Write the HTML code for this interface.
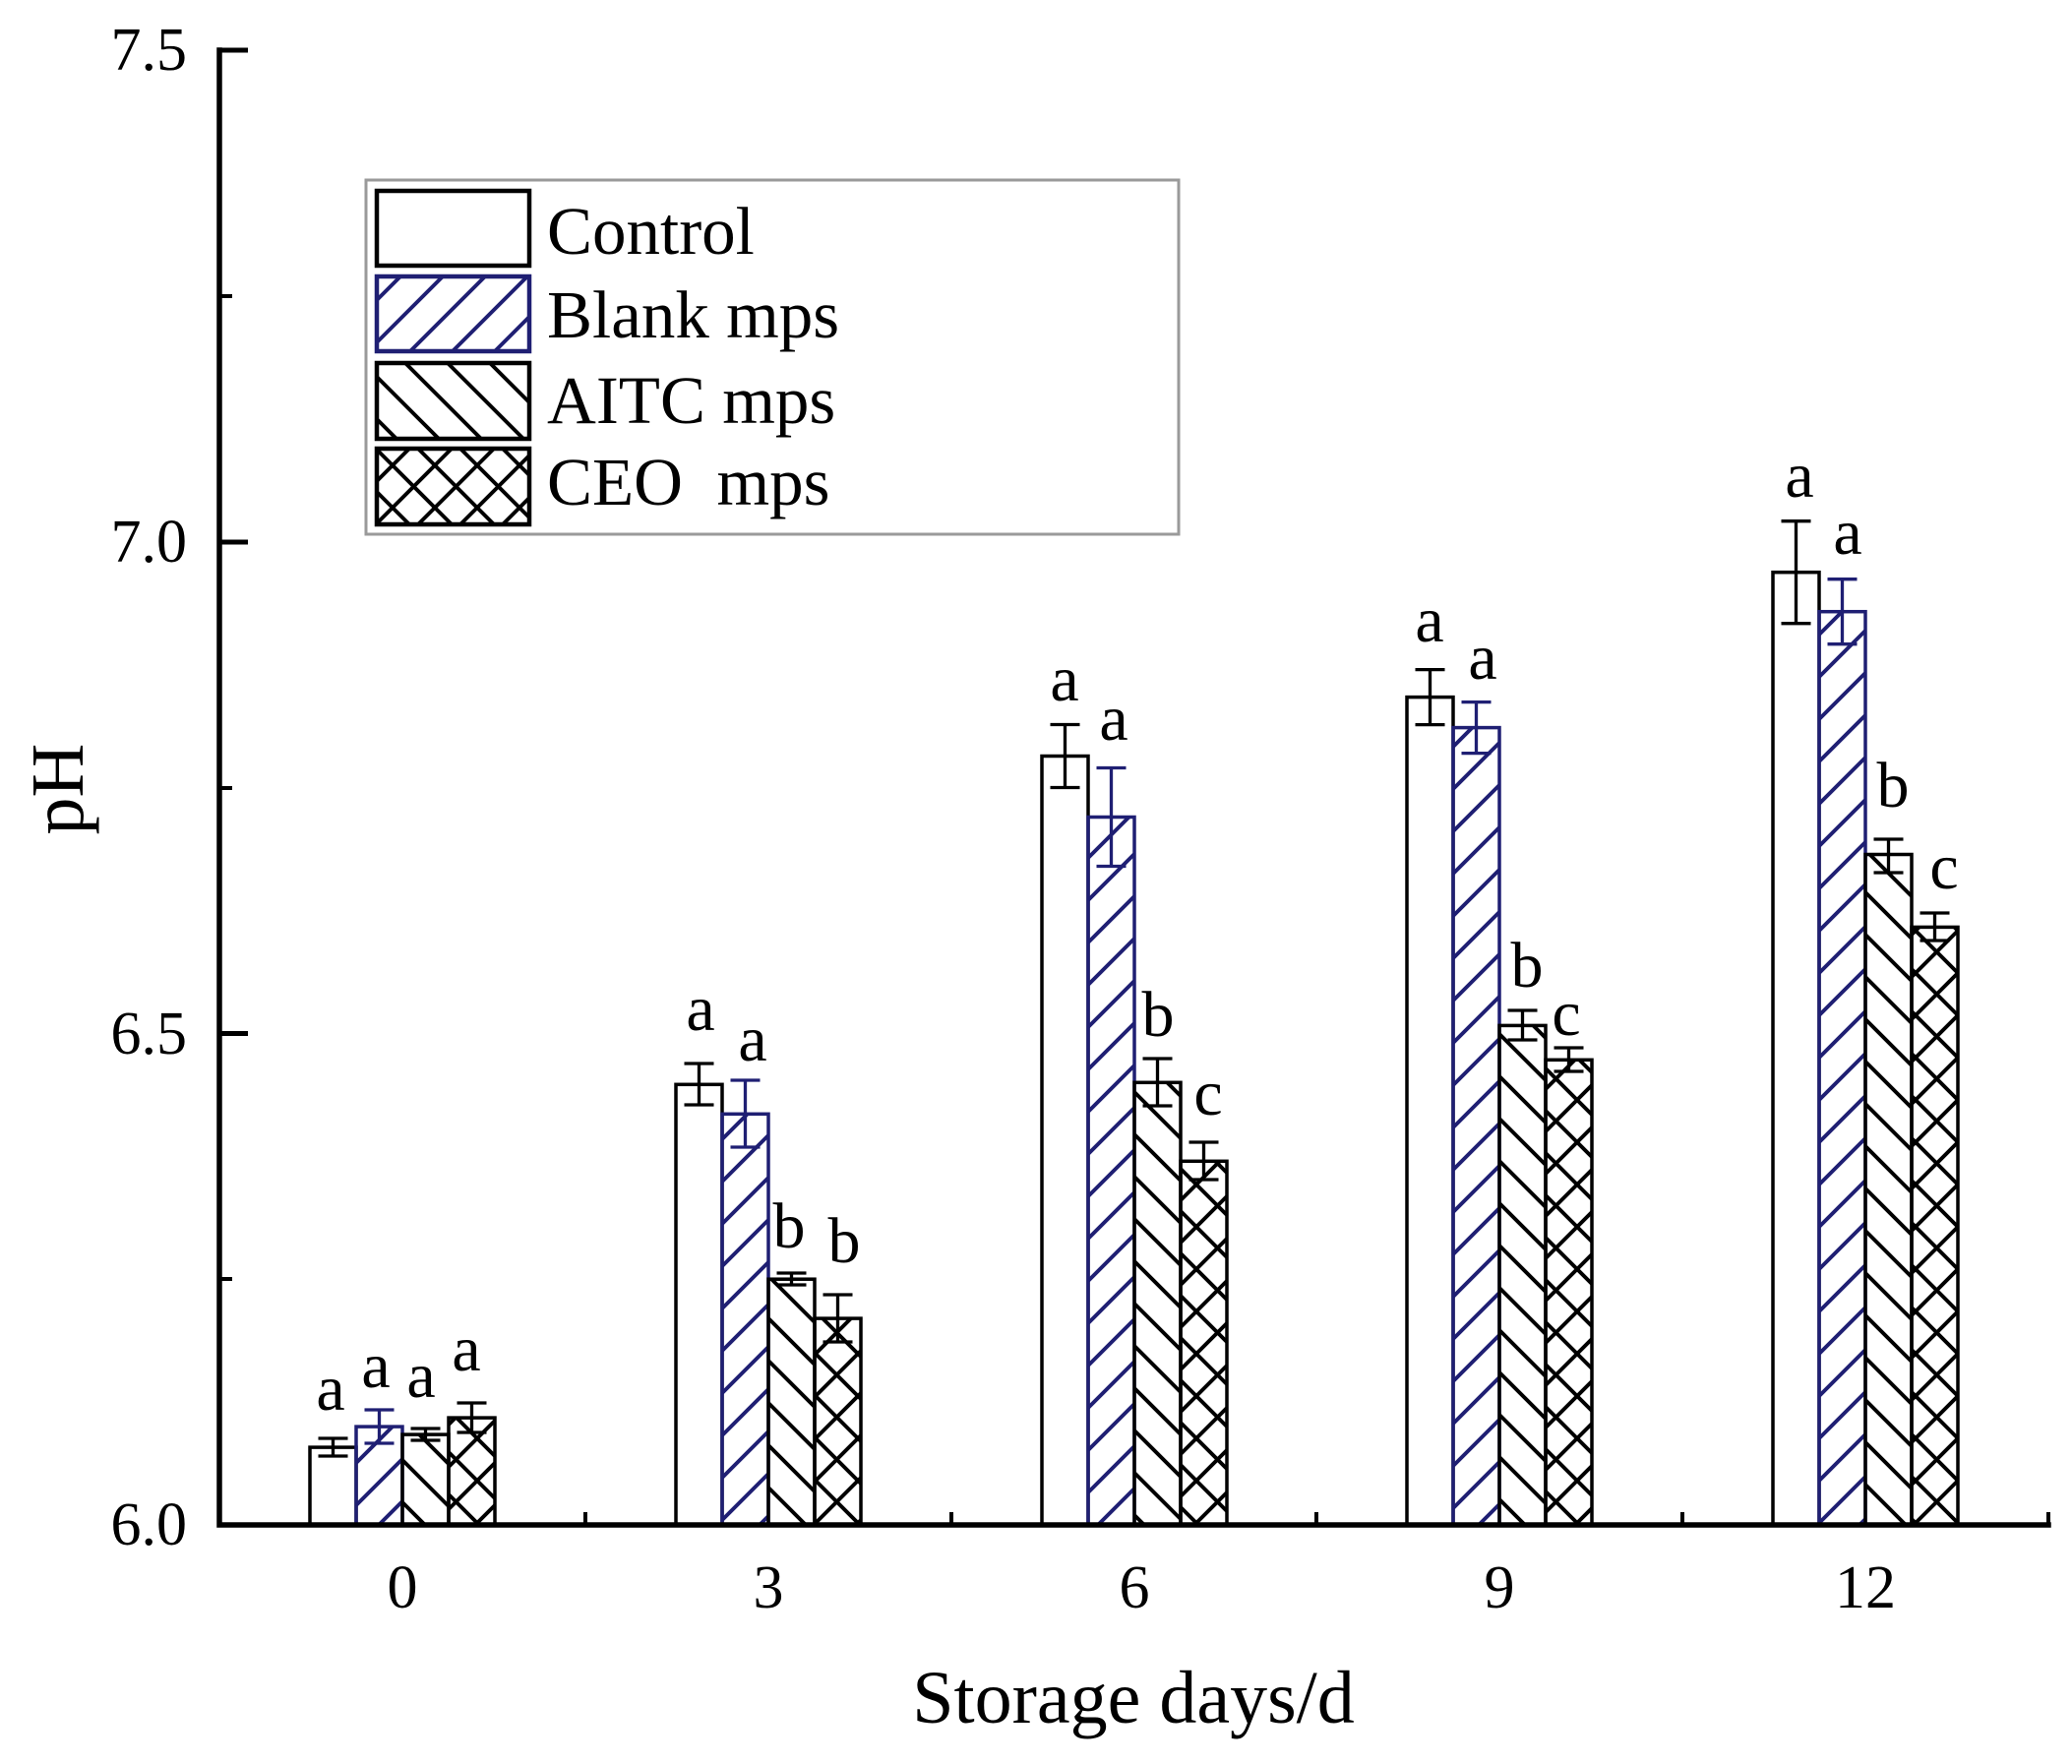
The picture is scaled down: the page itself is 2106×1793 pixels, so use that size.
<!DOCTYPE html>
<html>
<head>
<meta charset="utf-8">
<style>
html,body{margin:0;padding:0;background:#fff;}
svg{display:block;}
text{font-family:"Liberation Serif","Times New Roman",serif;fill:#000;}
</style>
</head>
<body>
<svg xmlns="http://www.w3.org/2000/svg" width="2106" height="1793" viewBox="0 0 2106 1793">
<defs>
  <pattern id="fw" patternUnits="userSpaceOnUse" width="43" height="43">
    <path d="M-6,6 L6,-6 M0,43 L43,0 M37,49 L49,37" stroke="#1f1f73" stroke-width="3.9"/>
  </pattern>
  <pattern id="bk" patternUnits="userSpaceOnUse" width="43" height="43">
    <path d="M-6,37 L6,49 M0,0 L43,43 M37,-6 L49,6" stroke="#000" stroke-width="3.9"/>
  </pattern>
  <pattern id="cx" patternUnits="userSpaceOnUse" width="43" height="43" x="12">
    <path d="M-6,6 L6,-6 M0,43 L43,0 M37,49 L49,37 M-6,37 L6,49 M0,0 L43,43 M37,-6 L49,6" stroke="#000" stroke-width="3.9"/>
  </pattern>
</defs>
<rect x="0" y="0" width="2106" height="1793" fill="#fff"/>

<!-- Legend -->
<rect x="372" y="183" width="826" height="360" fill="#fff" stroke="#9a9a9a" stroke-width="3"/>
<rect x="383" y="194" width="155" height="76" fill="#fff" stroke="#000" stroke-width="4.5"/>
<rect x="383" y="281" width="155" height="76" fill="url(#fw)" stroke="#1f1f73" stroke-width="4.5"/>
<rect x="383" y="369" width="155" height="77" fill="url(#bk)" stroke="#000" stroke-width="4.5"/>
<rect x="383" y="456" width="155" height="77" fill="url(#cx)" stroke="#000" stroke-width="4.5"/>
<text x="556" y="258" font-size="69">Control</text>
<text x="556" y="343" font-size="69">Blank mps</text>
<text x="556" y="430" font-size="69">AITC mps</text>
<text x="556" y="513" font-size="69" xml:space="preserve">CEO  mps</text>

<!-- Bars group 0 (c=409) -->
<g stroke-width="3.5">
<rect x="315" y="1471.1" width="47" height="78.9" fill="#fff" stroke="#000"/>
<rect x="362" y="1450.1" width="47" height="99.9" fill="url(#fw)" stroke="#1f1f73"/>
<rect x="409" y="1458.1" width="47" height="91.9" fill="url(#bk)" stroke="#000"/>
<rect x="456" y="1441.1" width="47" height="108.9" fill="url(#cx)" stroke="#000"/>

<!-- group 3 (c=781) -->
<rect x="687" y="1102.3" width="47" height="447.7" fill="#fff" stroke="#000"/>
<rect x="734" y="1132.3" width="47" height="417.7" fill="url(#fw)" stroke="#1f1f73"/>
<rect x="781" y="1300.2" width="47" height="249.8" fill="url(#bk)" stroke="#000"/>
<rect x="828" y="1340.1" width="47" height="209.9" fill="url(#cx)" stroke="#000"/>

<!-- group 6 (c=1153) -->
<rect x="1059" y="768.5" width="47" height="781.5" fill="#fff" stroke="#000"/>
<rect x="1106" y="830.5" width="47" height="719.5" fill="url(#fw)" stroke="#1f1f73"/>
<rect x="1153" y="1100.3" width="47" height="449.7" fill="url(#bk)" stroke="#000"/>
<rect x="1200" y="1180.3" width="47" height="369.7" fill="url(#cx)" stroke="#000"/>

<!-- group 9 (c=1524) -->
<rect x="1430" y="708.6" width="47" height="841.4" fill="#fff" stroke="#000"/>
<rect x="1477" y="739.6" width="47" height="810.4" fill="url(#fw)" stroke="#1f1f73"/>
<rect x="1524" y="1042.4" width="47" height="507.6" fill="url(#bk)" stroke="#000"/>
<rect x="1571" y="1077.3" width="47" height="472.7" fill="url(#cx)" stroke="#000"/>

<!-- group 12 (c=1896) -->
<rect x="1802" y="581.7" width="47" height="968.3" fill="#fff" stroke="#000"/>
<rect x="1849" y="621.7" width="47" height="928.3" fill="url(#fw)" stroke="#1f1f73"/>
<rect x="1896" y="868.5" width="47" height="681.5" fill="url(#bk)" stroke="#000"/>
<rect x="1943" y="942.4" width="47" height="607.6" fill="url(#cx)" stroke="#000"/>
</g>

<!-- Error bars -->
<g stroke="#000" stroke-width="3.3" fill="none">
<!-- g0 -->
<path d="M338.5,1462 V1480 M323.5,1462 H353.5 M323.5,1480 H353.5"/>
<path stroke="#1f1f73" d="M385.5,1433 V1467 M370.5,1433 H400.5 M370.5,1467 H400.5"/>
<path d="M432.5,1452 V1464 M417.5,1452 H447.5 M417.5,1464 H447.5"/>
<path d="M479.5,1426 V1456 M464.5,1426 H494.5 M464.5,1456 H494.5"/>
<!-- g3 -->
<path d="M710.5,1081 V1123 M695.5,1081 H725.5 M695.5,1123 H725.5"/>
<path stroke="#1f1f73" d="M757.5,1098 V1166 M742.5,1098 H772.5 M742.5,1166 H772.5"/>
<path d="M804.5,1294 V1306 M789.5,1294 H819.5 M789.5,1306 H819.5"/>
<path d="M851.5,1316 V1364 M836.5,1316 H866.5 M836.5,1364 H866.5"/>
<!-- g6 -->
<path d="M1082.5,736.5 V800.5 M1067.5,736.5 H1097.5 M1067.5,800.5 H1097.5"/>
<path stroke="#1f1f73" d="M1129.5,780.5 V880.5 M1114.5,780.5 H1144.5 M1114.5,880.5 H1144.5"/>
<path d="M1176.5,1076 V1124 M1161.5,1076 H1191.5 M1161.5,1124 H1191.5"/>
<path d="M1223.5,1161 V1199 M1208.5,1161 H1238.5 M1208.5,1199 H1238.5"/>
<!-- g9 -->
<path d="M1453.5,680.6 V736.6 M1438.5,680.6 H1468.5 M1438.5,736.6 H1468.5"/>
<path stroke="#1f1f73" d="M1500.5,713.6 V765.6 M1485.5,713.6 H1515.5 M1485.5,765.6 H1515.5"/>
<path d="M1547.5,1027 V1057 M1532.5,1027 H1562.5 M1532.5,1057 H1562.5"/>
<path d="M1594.5,1065 V1089 M1579.5,1065 H1609.5 M1579.5,1089 H1609.5"/>
<!-- g12 -->
<path d="M1825.5,529.7 V633.7 M1810.5,529.7 H1840.5 M1810.5,633.7 H1840.5"/>
<path stroke="#1f1f73" d="M1872.5,588.7 V654.7 M1857.5,588.7 H1887.5 M1857.5,654.7 H1887.5"/>
<path d="M1919.5,853 V887 M1904.5,853 H1934.5 M1904.5,887 H1934.5"/>
<path d="M1966.5,928 V956 M1951.5,928 H1981.5 M1951.5,956 H1981.5"/>
</g>

<!-- Significance letters -->
<g font-size="66" text-anchor="middle">
<text x="336" y="1433">a</text>
<text x="382" y="1410">a</text>
<text x="428" y="1420">a</text>
<text x="474" y="1393">a</text>

<text x="712" y="1047">a</text>
<text x="765" y="1078">a</text>
<text x="802" y="1268">b</text>
<text x="858" y="1283">b</text>

<text x="1082" y="712">a</text>
<text x="1132" y="752">a</text>
<text x="1177" y="1053">b</text>
<text x="1228" y="1133">c</text>

<text x="1453" y="652">a</text>
<text x="1507" y="690">a</text>
<text x="1552" y="1003">b</text>
<text x="1592" y="1052">c</text>

<text x="1829" y="505">a</text>
<text x="1878" y="563">a</text>
<text x="1924" y="820">b</text>
<text x="1976" y="903">c</text>
</g>

<!-- Axes -->
<g stroke="#000" fill="none">
<path d="M223,51 V1550 H2082" stroke-width="5.5" stroke-linecap="square"/>
<path d="M223,51 H252 M223,551 H252 M223,1050.5 H252" stroke-width="5"/>
<path d="M223,301 H236 M223,801 H236 M223,1300 H236" stroke-width="4"/>
<path d="M595,1550 V1537 M967,1550 V1537 M1338,1550 V1537 M1710,1550 V1537 M2082,1550 V1537" stroke-width="4"/>
</g>

<!-- Tick labels -->
<g font-size="62" text-anchor="end">
<text x="190" y="71">7.5</text>
<text x="190" y="571">7.0</text>
<text x="190" y="1071">6.5</text>
<text x="190" y="1570">6.0</text>
</g>
<g font-size="62" text-anchor="middle">
<text x="409" y="1634">0</text>
<text x="781" y="1634">3</text>
<text x="1153" y="1634">6</text>
<text x="1524" y="1634">9</text>
<text x="1896" y="1634">12</text>
</g>

<!-- Axis titles -->
<text x="1152" y="1751" font-size="76" text-anchor="middle">Storage days/d</text>
<text transform="translate(84,802) rotate(-90)" font-size="76" text-anchor="middle">pH</text>
</svg>
</body>
</html>
